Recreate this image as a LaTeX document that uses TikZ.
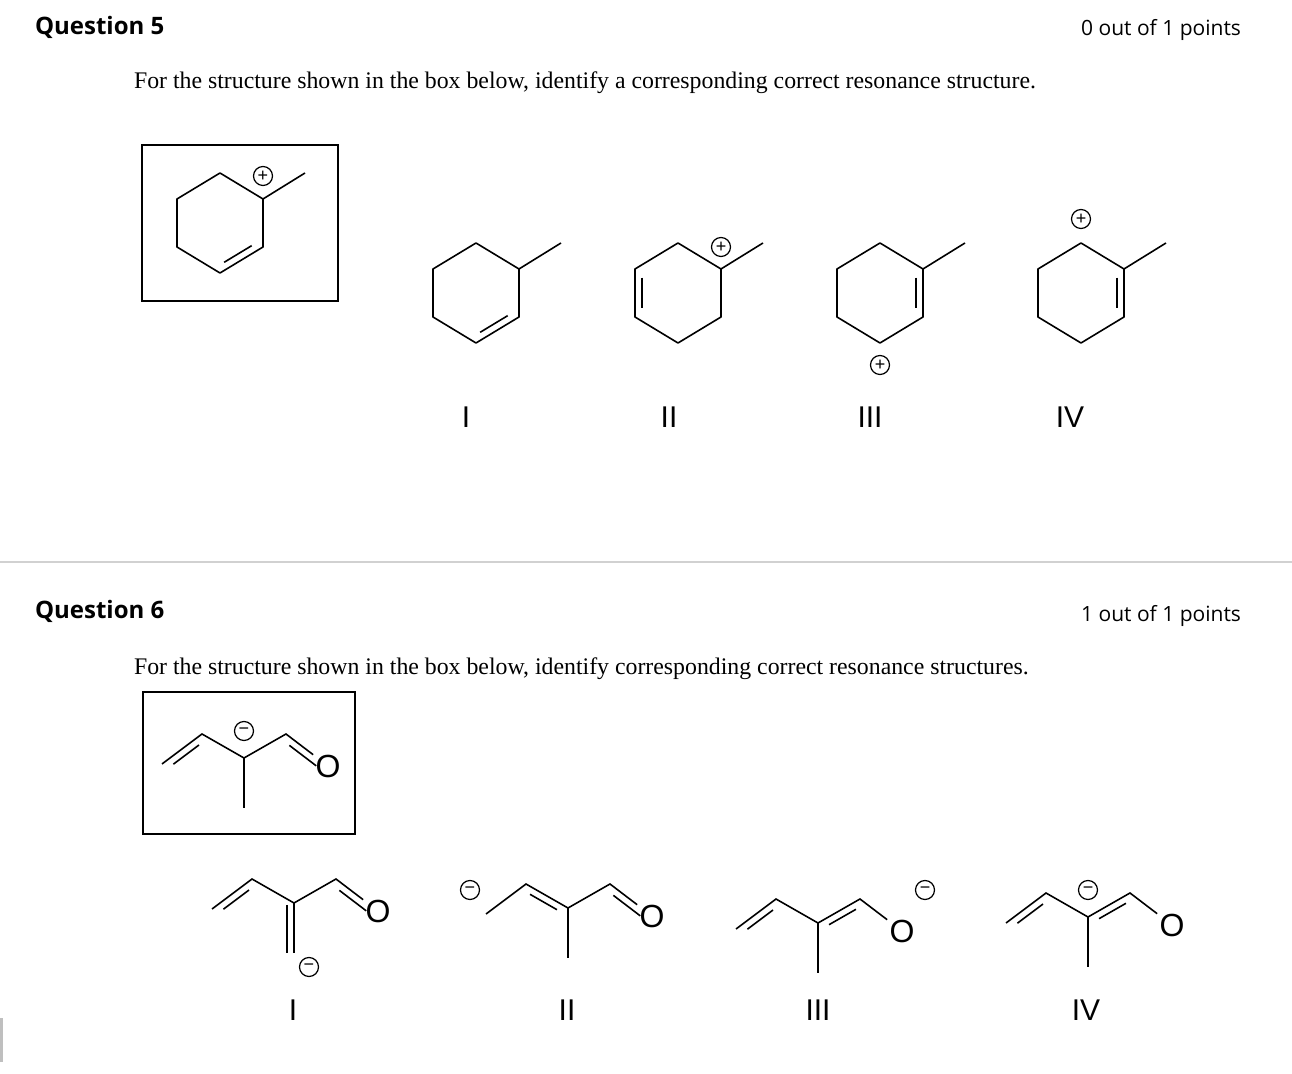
\documentclass[tikz,border=0pt]{standalone}
\usepackage{fontspec}
\setmainfont{Liberation Serif}
\newfontfamily\osans{Open Sans}
\newfontfamily\lsans{Liberation Sans}
\usetikzlibrary{calc}
\tikzset{
 bond/.style={line width=0.8pt},
 chg/.style={draw,circle,line width=0.6pt,minimum size=9.5pt,inner sep=0pt,font=\lsans\fontsize{9}{9}\selectfont},
 head/.style={anchor=west,font=\osans\bfseries\fontsize{12}{14}\selectfont},
 pts/.style={anchor=east,font=\osans\fontsize{10.5}{13}\selectfont},
 body/.style={anchor=west,font=\fontsize{11.9}{13}\selectfont},
 lab/.style={font=\lsans\fontsize{15}{17}\selectfont},
 oxy/.style={font=\lsans\fontsize{16}{18}\selectfont,inner sep=1pt},
 frame/.style={draw,line width=0.8pt}
}
\newcommand\mns{\char"2212}
\newcommand\innerb[4]{\draw[bond] ([shift={(#3,#4)}]$(#1)!0.18!(#2)$) -- ([shift={(#3,#4)}]$(#1)!0.82!(#2)$);}
\newcommand\hexring{%
 \coordinate (T) at (0,-50); \coordinate (UR) at (43,-24); \coordinate (LR) at (43,24);
 \coordinate (B) at (0,50); \coordinate (LL) at (-43,24); \coordinate (UL) at (-43,-24);
 \coordinate (Me) at (85,-50);
 \draw[bond,line join=round] (T)--(UR)--(LR)--(B)--(LL)--(UL)--cycle (UR)--(Me);}
\newcommand\chainbase{%
 \coordinate (A) at (-82,6); \coordinate (Bb) at (-42,-24); \coordinate (C) at (0,0);
 \coordinate (M) at (0,50); \coordinate (D) at (42,-24);
 \node[oxy] (O) at (84,8) {O};}
\begin{document}
\begin{tikzpicture}[x=0.5pt,y=-0.5pt]
\useasboundingbox (0,0) rectangle (1292,1074);
\fill[white] (0,0) rectangle (1292,1074);
% Question 5
\node[head] (q5) at (28,27) {Question 5};
\node[pts] (p5) at (1248,30) {0 out of 1 points};
\node[body] (t5) at (127,83) {For the structure shown in the box below, identify a corresponding correct resonance structure.};
\node[frame,minimum width=98pt,minimum height=78pt] (box5) at (240,223) {};
\begin{scope}[shift={(220,223)}]
 \hexring \innerb{LR}{B}{-3.6}{-6}
 \node[chg] (c0) at (43,-47) {+};
\end{scope}
\begin{scope}[shift={(476,293)}]
 \hexring \innerb{LR}{B}{-3.6}{-6}
\end{scope}
\begin{scope}[shift={(678,293)}]
 \hexring \innerb{UL}{LL}{7}{0}
 \node[chg] (c2) at (43,-46) {+};
\end{scope}
\begin{scope}[shift={(880,293)}]
 \hexring \innerb{UR}{LR}{-7}{0}
 \node[chg] (c3) at (0,72) {+};
\end{scope}
\begin{scope}[shift={(1081,293)}]
 \hexring \innerb{UR}{LR}{-7}{0}
 \node[chg] (c4) at (0,-74) {+};
\end{scope}
\node[lab] (l51) at (466,417) {I};
\node[lab] (l52) at (669,417) {II};
\node[lab] (l53) at (870,417) {III};
\node[lab] (l54) at (1070,417) {IV};
% separator
\draw[black!18,line width=0.6pt] (0,562) -- (1292,562);
\fill[black!25] (0,1018) rectangle (3,1062);
% Question 6
\node[head] (q6) at (28,611) {Question 6};
\node[pts] (p6) at (1248,616) {1 out of 1 points};
\node[body] (t6) at (127,669) {For the structure shown in the box below, identify corresponding correct resonance structures.};
\node[frame,minimum width=106pt,minimum height=71pt] (box6) at (249,763) {};
\begin{scope}[shift={(244,758)}]
 \chainbase
 \draw[bond] (A)--(Bb)--(C)--(D)--(O) (C)--(M);
 \innerb{A}{Bb}{4.2}{5.6} \innerb{D}{O}{-4.2}{5.6}
 \node[chg] (m0) at (0,-27) {\mns};
\end{scope}
\begin{scope}[shift={(294,903)}]
 \chainbase
 \draw[bond] (A)--(Bb)--(C)--(D)--(O) (C)--(M);
 \innerb{A}{Bb}{4.2}{5.6} \innerb{D}{O}{-4.2}{5.6}
 \draw[bond] (-7,2)--(-7,50);
 \node[chg] (m1) at (15,64) {\mns};
\end{scope}
\begin{scope}[shift={(568,908)}]
 \chainbase
 \draw[bond] (A)--(Bb)--(C)--(D)--(O) (C)--(M);
 \innerb{Bb}{C}{-3.5}{6} \innerb{D}{O}{-4.2}{5.6}
 \node[chg] (m2) at (-98,-18) {\mns};
\end{scope}
\begin{scope}[shift={(818,923)}]
 \chainbase
 \draw[bond] (A)--(Bb)--(C)--(D)--(O) (C)--(M);
 \innerb{A}{Bb}{4.2}{5.6} \innerb{C}{D}{3.5}{6}
 \node[chg] (m3) at (107,-33) {\mns};
\end{scope}
\begin{scope}[shift={(1088,917)}]
 \chainbase
 \draw[bond] (A)--(Bb)--(C)--(D)--(O) (C)--(M);
 \innerb{A}{Bb}{4.2}{5.6} \innerb{C}{D}{3.5}{6}
 \node[chg] (m4) at (0,-27) {\mns};
\end{scope}
\node[lab] (l61) at (293,1010) {I};
\node[lab] (l62) at (567,1010) {II};
\node[lab] (l63) at (818,1010) {III};
\node[lab] (l64) at (1086,1010) {IV};
\end{tikzpicture}
\end{document}
